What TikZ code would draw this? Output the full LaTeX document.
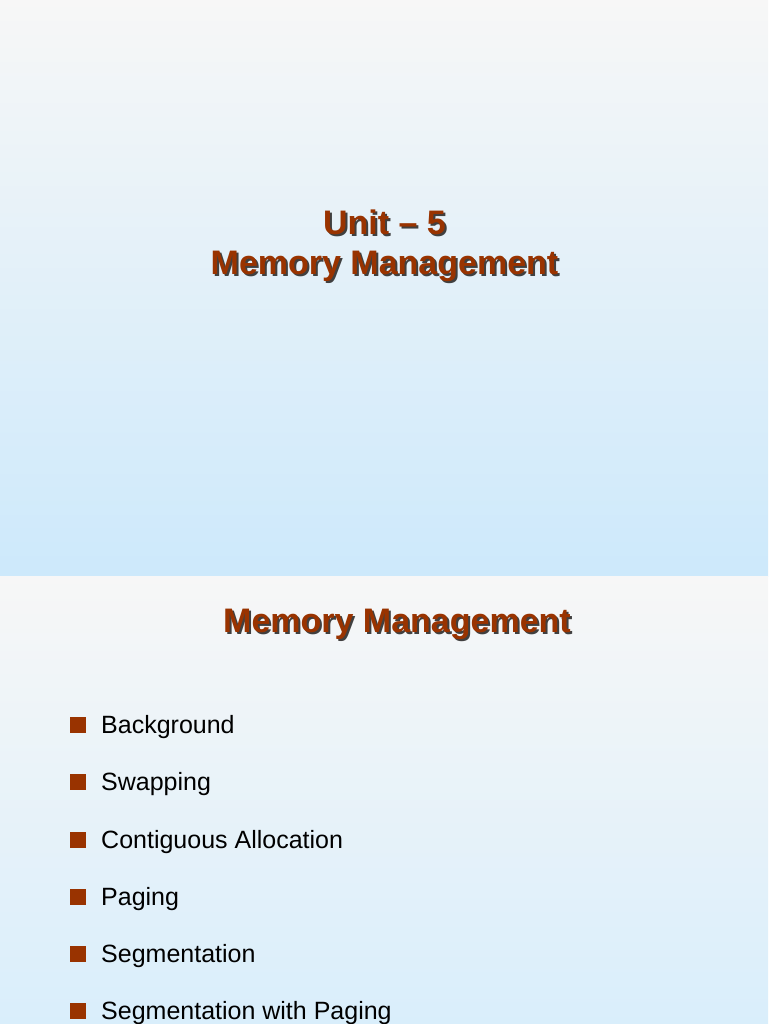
\documentclass[tikz,border=0pt]{standalone}
\usepackage{fontspec}
\setmainfont{Liberation Sans}
\definecolor{ttl}{HTML}{993300}
\definecolor{topc}{HTML}{F7F7F7}
\definecolor{botc}{HTML}{CDE9FB}
\definecolor{midc}{HTML}{D9EEFB}
\tikzset{x=1pt,y=-1pt,
 title/.style={font=\fontsize{34}{40}\selectfont\bfseries,text=ttl,align=center},
 shadowt/.style={font=\fontsize{34}{40}\selectfont\bfseries,text=black!75,align=center},
 item/.style={font=\fontsize{25}{30}\selectfont,anchor=west,inner sep=0pt},
 bul/.style={fill=ttl,minimum size=16pt,inner sep=0pt}}
\begin{document}
\begin{tikzpicture}
\useasboundingbox (0,0) rectangle (768,1024);
\shade[top color=topc,bottom color=botc] (0,0) rectangle (768,576);
\shade[top color=topc,bottom color=midc] (0,576) rectangle (768,1024);
\node[shadowt] at (386.5,247.5) {Unit -- 5\\Memory Management};
\node[title] (t1) at (384.5,245.5) {Unit -- 5\\Memory Management};
\node[shadowt] at (399,626) {Memory Management};
\node[title] (t2) at (397,624) {Memory Management};
\foreach \y/\t [count=\i] in {727/Background,784/Swapping,842/Contiguous Allocation,899/Paging,956/Segmentation,1013/Segmentation with Paging}{
 \node[bul] (b\i) at (78,\y-2) {};
 \node[item] (i\i) at (101,\y) {\t};
}
\end{tikzpicture}
\end{document}
